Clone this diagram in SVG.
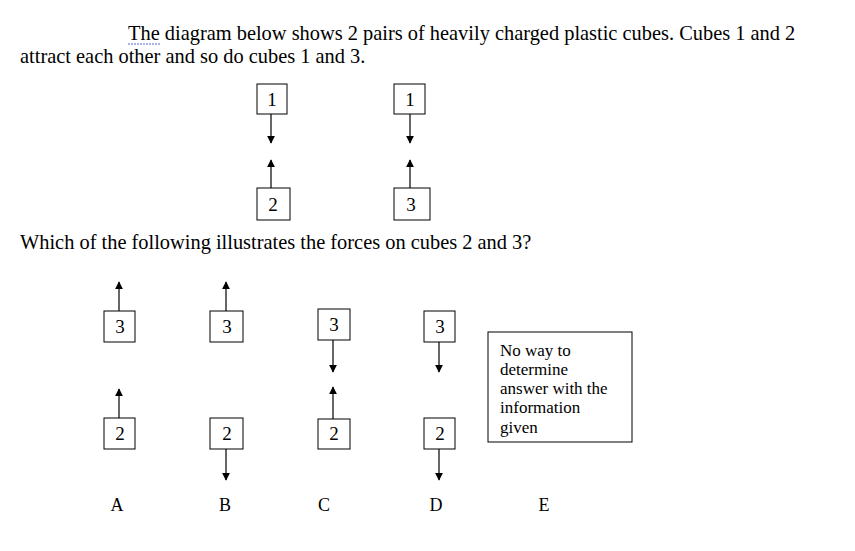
<svg xmlns="http://www.w3.org/2000/svg" width="855" height="551" viewBox="0 0 855 551">
<style>
text{font-family:"Liberation Serif",serif;font-size:20.4px;fill:#000}
.n{font-size:19px;text-anchor:middle}
.b{fill:#fff;stroke:#000;stroke-width:1}
.c{stroke:#000;stroke-width:1.2;fill:none}
.l{font-size:18px;text-anchor:middle}
.s{font-size:17px}
</style>
<defs><marker id="a" viewBox="0 0 10 10" refX="9" refY="5" markerWidth="8" markerHeight="8" markerUnits="userSpaceOnUse" orient="auto"><path d="M0,0L10,5L0,10z" fill="#000"/></marker></defs>
<rect width="855" height="551" fill="#fff"/>
<text x="128" y="40">The diagram below shows 2 pairs of heavily charged plastic cubes.  Cubes 1 and 2</text>
<line x1="128" y1="44" x2="161" y2="44" stroke="#5566cc" stroke-width="1" stroke-dasharray="2,1"/>
<text x="20" y="63">attract each other and so do cubes 1 and 3.</text>
<text x="20" y="249">Which of the following illustrates the forces on cubes 2 and 3?</text>
<g id="connectors">
<line class="c" x1="271" y1="114" x2="271" y2="143" marker-end="url(#a)"/>
<line class="c" x1="271" y1="188" x2="271" y2="160" marker-end="url(#a)"/>
<line class="c" x1="410" y1="114" x2="410" y2="143" marker-end="url(#a)"/>
<line class="c" x1="410" y1="188" x2="410" y2="160" marker-end="url(#a)"/>
<line class="c" x1="119" y1="311" x2="119" y2="282" marker-end="url(#a)"/>
<line class="c" x1="119" y1="418" x2="119" y2="389" marker-end="url(#a)"/>
<line class="c" x1="226" y1="311" x2="226" y2="282" marker-end="url(#a)"/>
<line class="c" x1="226" y1="449" x2="226" y2="480" marker-end="url(#a)"/>
<line class="c" x1="333" y1="340" x2="333" y2="372" marker-end="url(#a)"/>
<line class="c" x1="333" y1="419" x2="333" y2="387" marker-end="url(#a)"/>
<line class="c" x1="439" y1="342" x2="439" y2="372" marker-end="url(#a)"/>
<line class="c" x1="439" y1="449" x2="439" y2="480" marker-end="url(#a)"/>
</g>
<g id="t1"><rect class="b" x="257" y="84" width="30" height="30"/><text class="n" x="272" y="106">1</text></g>
<g id="t2"><rect class="b" x="257" y="188" width="33" height="32"/><text class="n" x="273" y="211">2</text></g>
<g id="t1b"><rect class="b" x="394" y="84" width="31" height="30"/><text class="n" x="410" y="106">1</text></g>
<g id="t3"><rect class="b" x="394" y="188" width="36" height="32"/><text class="n" x="411" y="211">3</text></g>
<g id="a3"><rect class="b" x="104" y="311" width="31" height="31"/><text class="n" x="120" y="333">3</text></g>
<g id="a2"><rect class="b" x="104" y="418" width="31" height="31"/><text class="n" x="120" y="440">2</text></g>
<g id="b3"><rect class="b" x="210" y="311" width="33" height="31"/><text class="n" x="227" y="333">3</text></g>
<g id="b2"><rect class="b" x="210" y="418" width="33" height="31"/><text class="n" x="227" y="440">2</text></g>
<g id="c3"><rect class="b" x="318" y="309" width="32" height="31"/><text class="n" x="334" y="331">3</text></g>
<g id="c2"><rect class="b" x="318" y="419" width="32" height="30"/><text class="n" x="334" y="440">2</text></g>
<g id="d3"><rect class="b" x="424" y="311" width="31" height="31"/><text class="n" x="440" y="333">3</text></g>
<g id="d2"><rect class="b" x="424" y="418" width="31" height="31"/><text class="n" x="440" y="440">2</text></g>
<g id="e"><rect class="b" x="488" y="332" width="144" height="110"/>
<text class="s" x="500" y="356">No way to</text><text class="s" x="500" y="375">determine</text><text class="s" x="500" y="394">answer with the</text><text class="s" x="500" y="413">information</text><text class="s" x="500" y="433">given</text></g>
<text class="l" x="117" y="511">A</text><text class="l" x="225" y="511">B</text><text class="l" x="324" y="511">C</text><text class="l" x="436" y="511">D</text><text class="l" x="544" y="511">E</text>
</svg>
